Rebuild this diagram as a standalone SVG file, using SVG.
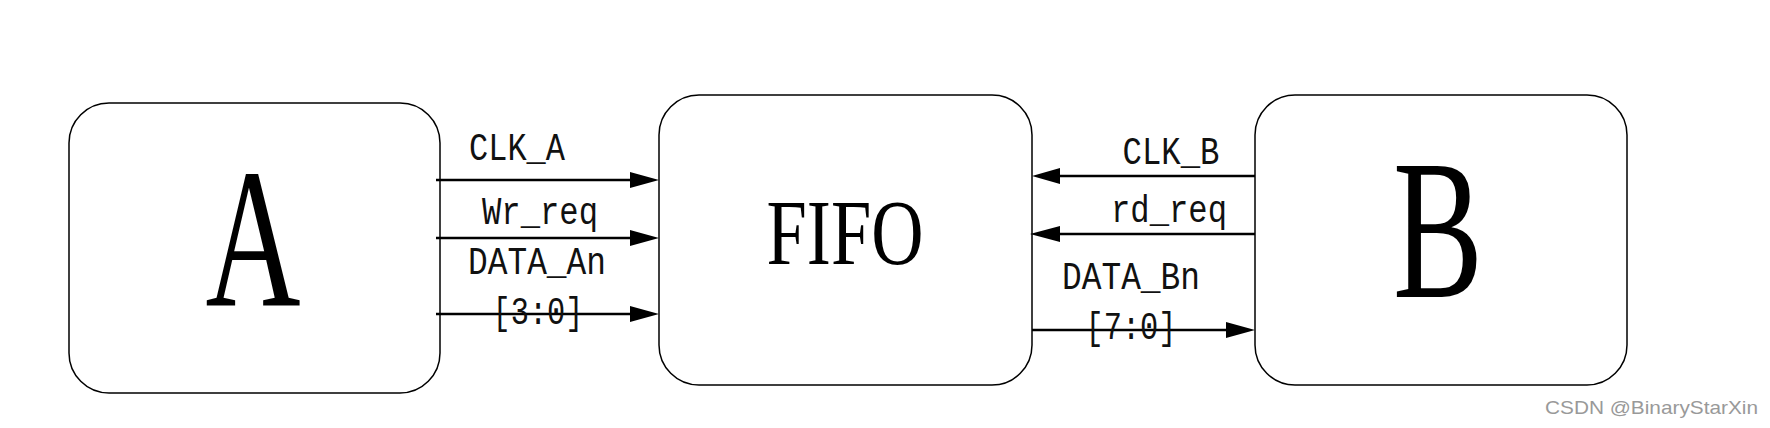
<svg xmlns="http://www.w3.org/2000/svg" width="1770" height="428" viewBox="0 0 1770 428">
<style>
.box{fill:#fff;stroke:#000;stroke-width:1.5}
.lbl{font-family:"Liberation Mono",monospace;font-size:38px;fill:#111;text-anchor:middle}
.big{font-family:"Liberation Serif",serif;fill:#000;text-anchor:middle}
.c{stroke:#000;stroke-width:2.5;fill:none}
</style>
<rect width="1770" height="428" fill="#fff"/>
<g id="nodeA"><rect class="box" x="69" y="103" width="371" height="290" rx="40"/><text class="big" x="253" y="305" font-size="200" textLength="95" lengthAdjust="spacingAndGlyphs">A</text></g>
<g id="nodeFIFO"><rect class="box" x="659" y="95" width="373" height="290" rx="40"/><text class="big" x="845" y="264" font-size="94" textLength="157" lengthAdjust="spacingAndGlyphs">FIFO</text></g>
<g id="nodeB"><rect class="box" x="1255" y="95" width="372" height="290" rx="40"/><text class="big" x="1438" y="297" font-size="200" textLength="90" lengthAdjust="spacingAndGlyphs">B</text></g>
<g id="connectors">
<path class="c" d="M436,180H630"/><path d="M630,172L659,180L630,188z"/>
<path class="c" d="M436,238H630"/><path d="M630,230L659,238L630,246z"/>
<path class="c" d="M436,314H630"/><path d="M630,306L659,314L630,322z"/>
<path class="c" d="M1255,176H1060"/><path d="M1060,168L1032,176L1060,184z"/>
<path class="c" d="M1255,234H1060"/><path d="M1060,226L1030,234L1060,242z"/>
<path class="c" d="M1032,330H1226"/><path d="M1226,322L1255,330L1226,338z"/>
</g>
<g id="labels">
<text class="lbl" x="517" y="160" textLength="96" lengthAdjust="spacingAndGlyphs">CLK_A</text>
<text class="lbl" x="540" y="224" textLength="116" lengthAdjust="spacingAndGlyphs">Wr_req</text>
<text class="lbl" x="537" y="274" textLength="138" lengthAdjust="spacingAndGlyphs">DATA_An</text>
<text class="lbl" x="538" y="324" textLength="91" lengthAdjust="spacingAndGlyphs">[3:0]</text>
<text class="lbl" x="1171" y="164" textLength="97" lengthAdjust="spacingAndGlyphs">CLK_B</text>
<text class="lbl" x="1169" y="222" textLength="116" lengthAdjust="spacingAndGlyphs">rd_req</text>
<text class="lbl" x="1131" y="289" textLength="138" lengthAdjust="spacingAndGlyphs">DATA_Bn</text>
<text class="lbl" x="1131" y="339" textLength="91" lengthAdjust="spacingAndGlyphs">[7:0]</text>
</g>
<text x="1545" y="414" font-family="Liberation Sans,sans-serif" font-size="19" fill="#999" textLength="213" lengthAdjust="spacingAndGlyphs">CSDN @BinaryStarXin</text>
</svg>
